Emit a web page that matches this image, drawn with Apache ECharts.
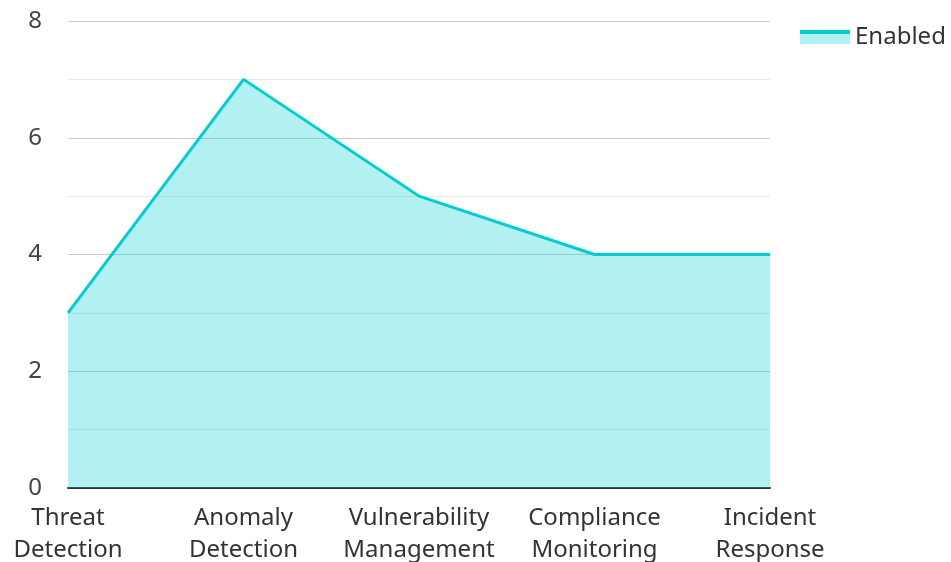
<!DOCTYPE html>
<html>
<head>
<meta charset="utf-8">
<script src="https://cdn.jsdelivr.net/npm/echarts@6/dist/echarts.min.js"></script>
<style>
  html, body { margin: 0; padding: 0; background: #fff; }
  #chart { width: 951px; height: 562px; }
</style>
</head>
<body>
<div id="chart"></div>
<script>
// categories and values
const categories = ['Threat\nDetection', 'Anomaly\nDetection', 'Vulnerability\nManagement', 'Compliance\nMonitoring', 'Incident\nResponse']
const enabled = [3, 7, 5, 4, 4]

const lineColor = '#00CED1'
const areaColor = 'rgba(0, 206, 209, 0.3)'
const font = '"Noto Sans", "Open Sans", sans-serif'

const chart = echarts.init(document.getElementById('chart'))
chart.setOption({
  animation: false,
  textStyle: { fontFamily: font },
  grid: { left: 68, right: 181, top: 21, bottom: 74, containLabel: false, outerBoundsMode: 'none' },
  legend: {
    left: 795,
    top: 20,
    itemWidth: 50,
    itemHeight: 14,
    itemGap: 10,
    icon: 'rect',
    textStyle: { fontSize: 24, color: '#333', fontFamily: font, padding: [0, 0, 9, 0] },
    data: [{
      name: 'Enabled',
      itemStyle: {
        color: {
          type: 'linear', x: 0, y: 0, x2: 0, y2: 1,
          colorStops: [
            { offset: 0, color: lineColor },
            { offset: 0.28, color: lineColor },
            { offset: 0.28, color: '#b3f0f1' },
            { offset: 1, color: '#b3f0f1' }
          ]
        }
      }
    }]
  },
  xAxis: {
    type: 'category',
    boundaryGap: false,
    data: categories,
    axisLine: { lineStyle: { color: '#333', width: 2 } },
    axisTick: { show: false },
    axisLabel: { fontSize: 24, color: '#333', lineHeight: 32, margin: 14, interval: 0 }
  },
  yAxis: {
    type: 'value',
    min: 0,
    max: 8,
    interval: 2,
    axisLine: { show: false },
    axisTick: { show: false },
    axisLabel: { fontSize: 24, color: '#444', margin: 26 },
    splitLine: { lineStyle: { color: '#ccc', width: 1 } },
    minorTick: { show: false, splitNumber: 2 },
    minorSplitLine: { show: true, lineStyle: { color: '#e8e8e8', width: 1 } }
  },
  series: [{
    name: 'Enabled',
    type: 'line',
    data: enabled,
    showSymbol: false,
    lineStyle: { color: lineColor, width: 3 },
    itemStyle: { color: lineColor },
    areaStyle: { color: areaColor, opacity: 1 }
  }]
})
</script>
</body>
</html>
